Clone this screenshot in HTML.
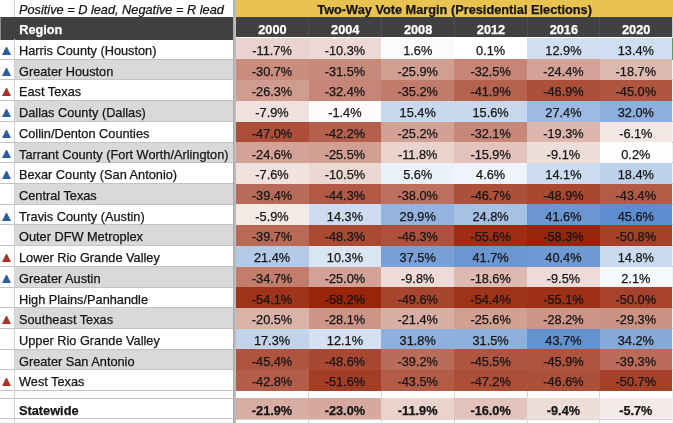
<!DOCTYPE html>
<html><head><meta charset="utf-8"><title>Two-Way Vote Margin</title>
<style>
html,body{margin:0;padding:0;}
body{width:673px;height:423px;overflow:hidden;background:#fff;position:relative;font-family:"Liberation Sans",Arial,sans-serif;font-size:12.75px;color:#151515;}
div{position:absolute;box-sizing:border-box;white-space:nowrap;-webkit-text-stroke:0.25px currentColor;}
.c{text-align:center;}
.b{font-weight:bold;}
.tri{width:0;height:0;border-left:4.6px solid transparent;border-right:4.6px solid transparent;border-bottom:8.5px solid #2d5c9f;}
.tri.r{border-bottom-color:#a5352b;}
.hl{background:#c9c9c9;height:1px;}
</style></head><body>

<div style="left:19.00px;top:0.50px;width:214.00px;height:17.00px;line-height:17px;font-style:italic;">Positive = D lead, Negative = R lead</div>
<div style="left:235.50px;top:0.00px;width:437.50px;height:16.70px;background:#e9c350;"></div>
<div class="c b" style="left:236.60px;top:0.80px;width:436.10px;height:17.00px;line-height:17px;">Two-Way Vote Margin (Presidential Elections)</div>
<div style="left:0.00px;top:17.00px;width:233.00px;height:22.50px;background:#414141;"></div>
<div style="left:0.00px;top:17.00px;width:1.00px;height:22.50px;background:#8c8c8c;"></div>
<div class="b" style="left:19.20px;top:18.80px;width:200.00px;height:21.50px;line-height:21.5px;color:#fff;">Region</div>
<div style="left:235.50px;top:16.70px;width:436.10px;height:20.80px;background:#414141;"></div>
<div class="c b" style="left:235.90px;top:18.80px;width:73.00px;height:20.70px;line-height:21.5px;color:#fff;">2000</div>
<div class="c b" style="left:308.90px;top:18.80px;width:72.80px;height:20.70px;line-height:21.5px;color:#fff;">2004</div>
<div class="c b" style="left:381.70px;top:18.80px;width:72.80px;height:20.70px;line-height:21.5px;color:#fff;">2008</div>
<div class="c b" style="left:454.50px;top:18.80px;width:73.00px;height:20.70px;line-height:21.5px;color:#fff;">2012</div>
<div class="c b" style="left:527.50px;top:18.80px;width:72.70px;height:20.70px;line-height:21.5px;color:#fff;">2016</div>
<div class="c b" style="left:600.20px;top:18.80px;width:72.00px;height:20.70px;line-height:21.5px;color:#fff;">2020</div>
<div style="left:308.00px;top:17.20px;width:1.00px;height:20.30px;background:#4e4e4e;"></div>
<div style="left:380.80px;top:17.20px;width:1.00px;height:20.30px;background:#4e4e4e;"></div>
<div style="left:453.60px;top:17.20px;width:1.00px;height:20.30px;background:#4e4e4e;"></div>
<div style="left:526.60px;top:17.20px;width:1.00px;height:20.30px;background:#4e4e4e;"></div>
<div style="left:599.30px;top:17.20px;width:1.00px;height:20.30px;background:#4e4e4e;"></div>
<div style="left:233.00px;top:0.00px;width:3.00px;height:423.00px;background:linear-gradient(90deg,#a9a9a9,#c4c4c4);"></div>
<div style="left:14.00px;top:0.00px;width:1.00px;height:17.00px;background:#cfcfcf;"></div>
<div style="left:14.00px;top:39.00px;width:1.00px;height:384.00px;background:#cfcfcf;"></div>
<div style="left:0.00px;top:58.70px;width:233.00px;height:1.00px;background:#c4c4c4;"></div>
<div style="left:19.00px;top:41.00px;width:213.00px;height:20.71px;line-height:20.71px;">Harris County (Houston)</div>
<div class="tri" style="left:2.10px;top:46.30px;width:9.20px;height:8.50px;"></div>
<div style="left:235.50px;top:37.50px;width:73.00px;height:21.95px;background:#ead3ce;"></div>
<div class="c" style="left:235.50px;top:41.00px;width:73.00px;height:20.71px;line-height:20.71px;">-11.7%</div>
<div style="left:308.50px;top:37.50px;width:72.80px;height:21.95px;background:#edd8d4;"></div>
<div class="c" style="left:308.50px;top:41.00px;width:72.80px;height:20.71px;line-height:20.71px;">-10.3%</div>
<div style="left:381.30px;top:37.50px;width:72.80px;height:21.95px;background:#f9fbfd;"></div>
<div class="c" style="left:381.30px;top:41.00px;width:72.80px;height:20.71px;line-height:20.71px;">1.6%</div>
<div style="left:454.10px;top:37.50px;width:73.00px;height:21.95px;background:#ffffff;"></div>
<div class="c" style="left:454.10px;top:41.00px;width:73.00px;height:20.71px;line-height:20.71px;">0.1%</div>
<div style="left:527.10px;top:37.50px;width:72.70px;height:21.95px;background:#d1dff1;"></div>
<div class="c" style="left:527.10px;top:41.00px;width:72.70px;height:20.71px;line-height:20.71px;">12.9%</div>
<div style="left:599.80px;top:37.50px;width:72.00px;height:21.95px;background:#cfdef1;"></div>
<div class="c" style="left:599.80px;top:41.00px;width:72.00px;height:20.71px;line-height:20.71px;">13.4%</div>
<div style="left:15.00px;top:59.70px;width:218.00px;height:20.71px;background:#d9d9d9;"></div>
<div style="left:0.00px;top:79.41px;width:233.00px;height:1.00px;background:#c4c4c4;"></div>
<div style="left:19.00px;top:61.71px;width:213.00px;height:20.71px;line-height:20.71px;">Greater Houston</div>
<div class="tri" style="left:2.10px;top:67.01px;width:9.20px;height:8.50px;"></div>
<div style="left:235.50px;top:59.40px;width:73.00px;height:20.76px;background:#c98c7d;"></div>
<div class="c" style="left:235.50px;top:61.71px;width:73.00px;height:20.71px;line-height:20.71px;">-30.7%</div>
<div style="left:308.50px;top:59.40px;width:72.80px;height:20.76px;background:#c7897a;"></div>
<div class="c" style="left:308.50px;top:61.71px;width:72.80px;height:20.71px;line-height:20.71px;">-31.5%</div>
<div style="left:381.30px;top:59.40px;width:72.80px;height:20.76px;background:#d19e92;"></div>
<div class="c" style="left:381.30px;top:61.71px;width:72.80px;height:20.71px;line-height:20.71px;">-25.9%</div>
<div style="left:454.10px;top:59.40px;width:73.00px;height:20.76px;background:#c68576;"></div>
<div class="c" style="left:454.10px;top:61.71px;width:73.00px;height:20.71px;line-height:20.71px;">-32.5%</div>
<div style="left:527.10px;top:59.40px;width:72.70px;height:20.76px;background:#d4a398;"></div>
<div class="c" style="left:527.10px;top:61.71px;width:72.70px;height:20.71px;line-height:20.71px;">-24.4%</div>
<div style="left:599.80px;top:59.40px;width:72.00px;height:20.76px;background:#deb9b0;"></div>
<div class="c" style="left:599.80px;top:61.71px;width:72.00px;height:20.71px;line-height:20.71px;">-18.7%</div>
<div style="left:0.00px;top:100.12px;width:233.00px;height:1.00px;background:#c4c4c4;"></div>
<div style="left:19.00px;top:82.42px;width:213.00px;height:20.71px;line-height:20.71px;">East Texas</div>
<div class="tri r" style="left:2.10px;top:87.72px;width:9.20px;height:8.50px;"></div>
<div style="left:235.50px;top:80.11px;width:73.00px;height:20.76px;background:#d19c90;"></div>
<div class="c" style="left:235.50px;top:82.42px;width:73.00px;height:20.71px;line-height:20.71px;">-26.3%</div>
<div style="left:308.50px;top:80.11px;width:72.80px;height:20.76px;background:#c68576;"></div>
<div class="c" style="left:308.50px;top:82.42px;width:72.80px;height:20.71px;line-height:20.71px;">-32.4%</div>
<div style="left:381.30px;top:80.11px;width:72.80px;height:20.76px;background:#c17b6a;"></div>
<div class="c" style="left:381.30px;top:82.42px;width:72.80px;height:20.71px;line-height:20.71px;">-35.2%</div>
<div style="left:454.10px;top:80.11px;width:73.00px;height:20.76px;background:#b5624e;"></div>
<div class="c" style="left:454.10px;top:82.42px;width:73.00px;height:20.71px;line-height:20.71px;">-41.9%</div>
<div style="left:527.10px;top:80.11px;width:72.70px;height:20.76px;background:#ac4f39;"></div>
<div class="c" style="left:527.10px;top:82.42px;width:72.70px;height:20.71px;line-height:20.71px;">-46.9%</div>
<div style="left:599.80px;top:80.11px;width:72.00px;height:20.76px;background:#af5641;"></div>
<div class="c" style="left:599.80px;top:82.42px;width:72.00px;height:20.71px;line-height:20.71px;">-45.0%</div>
<div style="left:15.00px;top:101.12px;width:218.00px;height:20.71px;background:#d9d9d9;"></div>
<div style="left:0.00px;top:120.84px;width:233.00px;height:1.00px;background:#c4c4c4;"></div>
<div style="left:19.00px;top:103.14px;width:213.00px;height:20.71px;line-height:20.71px;">Dallas County (Dallas)</div>
<div class="tri" style="left:2.10px;top:108.44px;width:9.20px;height:8.50px;"></div>
<div style="left:235.50px;top:100.82px;width:73.00px;height:20.76px;background:#f1e1de;"></div>
<div class="c" style="left:235.50px;top:103.14px;width:73.00px;height:20.71px;line-height:20.71px;">-7.9%</div>
<div style="left:308.50px;top:100.82px;width:72.80px;height:20.76px;background:#fdfaf9;"></div>
<div class="c" style="left:308.50px;top:103.14px;width:72.80px;height:20.71px;line-height:20.71px;">-1.4%</div>
<div style="left:381.30px;top:100.82px;width:72.80px;height:20.76px;background:#c8d8ee;"></div>
<div class="c" style="left:381.30px;top:103.14px;width:72.80px;height:20.71px;line-height:20.71px;">15.4%</div>
<div style="left:454.10px;top:100.82px;width:73.00px;height:20.76px;background:#c7d8ee;"></div>
<div class="c" style="left:454.10px;top:103.14px;width:73.00px;height:20.71px;line-height:20.71px;">15.6%</div>
<div style="left:527.10px;top:100.82px;width:72.70px;height:20.76px;background:#9dbae2;"></div>
<div class="c" style="left:527.10px;top:103.14px;width:72.70px;height:20.71px;line-height:20.71px;">27.4%</div>
<div style="left:599.80px;top:100.82px;width:72.00px;height:20.76px;background:#8dafdd;"></div>
<div class="c" style="left:599.80px;top:103.14px;width:72.00px;height:20.71px;line-height:20.71px;">32.0%</div>
<div style="left:0.00px;top:141.55px;width:233.00px;height:1.00px;background:#c4c4c4;"></div>
<div style="left:19.00px;top:123.85px;width:213.00px;height:20.71px;line-height:20.71px;">Collin/Denton Counties</div>
<div class="tri" style="left:2.10px;top:129.15px;width:9.20px;height:8.50px;"></div>
<div style="left:235.50px;top:121.54px;width:73.00px;height:20.76px;background:#ac4e39;"></div>
<div class="c" style="left:235.50px;top:123.85px;width:73.00px;height:20.71px;line-height:20.71px;">-47.0%</div>
<div style="left:308.50px;top:121.54px;width:72.80px;height:20.76px;background:#b4604d;"></div>
<div class="c" style="left:308.50px;top:123.85px;width:72.80px;height:20.71px;line-height:20.71px;">-42.2%</div>
<div style="left:381.30px;top:121.54px;width:72.80px;height:20.76px;background:#d2a095;"></div>
<div class="c" style="left:381.30px;top:123.85px;width:72.80px;height:20.71px;line-height:20.71px;">-25.2%</div>
<div style="left:454.10px;top:121.54px;width:73.00px;height:20.76px;background:#c68678;"></div>
<div class="c" style="left:454.10px;top:123.85px;width:73.00px;height:20.71px;line-height:20.71px;">-32.1%</div>
<div style="left:527.10px;top:121.54px;width:72.70px;height:20.76px;background:#ddb7ae;"></div>
<div class="c" style="left:527.10px;top:123.85px;width:72.70px;height:20.71px;line-height:20.71px;">-19.3%</div>
<div style="left:599.80px;top:121.54px;width:72.00px;height:20.76px;background:#f4e8e5;"></div>
<div class="c" style="left:599.80px;top:123.85px;width:72.00px;height:20.71px;line-height:20.71px;">-6.1%</div>
<div style="left:15.00px;top:142.55px;width:218.00px;height:20.71px;background:#d9d9d9;"></div>
<div style="left:0.00px;top:162.26px;width:233.00px;height:1.00px;background:#c4c4c4;"></div>
<div style="left:19.00px;top:144.56px;width:213.00px;height:20.71px;line-height:20.71px;">Tarrant County (Fort Worth/Arlington)</div>
<div class="tri" style="left:2.10px;top:149.86px;width:9.20px;height:8.50px;"></div>
<div style="left:235.50px;top:142.25px;width:73.00px;height:20.76px;background:#d4a397;"></div>
<div class="c" style="left:235.50px;top:144.56px;width:73.00px;height:20.71px;line-height:20.71px;">-24.6%</div>
<div style="left:308.50px;top:142.25px;width:72.80px;height:20.76px;background:#d29f93;"></div>
<div class="c" style="left:308.50px;top:144.56px;width:72.80px;height:20.71px;line-height:20.71px;">-25.5%</div>
<div style="left:381.30px;top:142.25px;width:72.80px;height:20.76px;background:#ead3cd;"></div>
<div class="c" style="left:381.30px;top:144.56px;width:72.80px;height:20.71px;line-height:20.71px;">-11.8%</div>
<div style="left:454.10px;top:142.25px;width:73.00px;height:20.76px;background:#e3c3bc;"></div>
<div class="c" style="left:454.10px;top:144.56px;width:73.00px;height:20.71px;line-height:20.71px;">-15.9%</div>
<div style="left:527.10px;top:142.25px;width:72.70px;height:20.76px;background:#efddd9;"></div>
<div class="c" style="left:527.10px;top:144.56px;width:72.70px;height:20.71px;line-height:20.71px;">-9.1%</div>
<div style="left:599.80px;top:142.25px;width:72.00px;height:20.76px;background:#fefeff;"></div>
<div class="c" style="left:599.80px;top:144.56px;width:72.00px;height:20.71px;line-height:20.71px;">0.2%</div>
<div style="left:0.00px;top:182.97px;width:233.00px;height:1.00px;background:#c4c4c4;"></div>
<div style="left:19.00px;top:165.27px;width:213.00px;height:20.71px;line-height:20.71px;">Bexar County (San Antonio)</div>
<div class="tri" style="left:2.10px;top:170.57px;width:9.20px;height:8.50px;"></div>
<div style="left:235.50px;top:162.96px;width:73.00px;height:20.76px;background:#f2e2df;"></div>
<div class="c" style="left:235.50px;top:165.27px;width:73.00px;height:20.71px;line-height:20.71px;">-7.6%</div>
<div style="left:308.50px;top:162.96px;width:72.80px;height:20.76px;background:#ecd8d3;"></div>
<div class="c" style="left:308.50px;top:165.27px;width:72.80px;height:20.71px;line-height:20.71px;">-10.5%</div>
<div style="left:381.30px;top:162.96px;width:72.80px;height:20.76px;background:#ebf1f9;"></div>
<div class="c" style="left:381.30px;top:165.27px;width:72.80px;height:20.71px;line-height:20.71px;">5.6%</div>
<div style="left:454.10px;top:162.96px;width:73.00px;height:20.76px;background:#eff4fa;"></div>
<div class="c" style="left:454.10px;top:165.27px;width:73.00px;height:20.71px;line-height:20.71px;">4.6%</div>
<div style="left:527.10px;top:162.96px;width:72.70px;height:20.76px;background:#cddcf0;"></div>
<div class="c" style="left:527.10px;top:165.27px;width:72.70px;height:20.71px;line-height:20.71px;">14.1%</div>
<div style="left:599.80px;top:162.96px;width:72.00px;height:20.76px;background:#bdd1eb;"></div>
<div class="c" style="left:599.80px;top:165.27px;width:72.00px;height:20.71px;line-height:20.71px;">18.4%</div>
<div style="left:15.00px;top:183.97px;width:218.00px;height:20.71px;background:#d9d9d9;"></div>
<div style="left:0.00px;top:203.68px;width:233.00px;height:1.00px;background:#c4c4c4;"></div>
<div style="left:19.00px;top:185.98px;width:213.00px;height:20.71px;line-height:20.71px;">Central Texas</div>
<div style="left:235.50px;top:183.67px;width:73.00px;height:20.76px;background:#b96b59;"></div>
<div class="c" style="left:235.50px;top:185.98px;width:73.00px;height:20.71px;line-height:20.71px;">-39.4%</div>
<div style="left:308.50px;top:183.67px;width:72.80px;height:20.76px;background:#b15944;"></div>
<div class="c" style="left:308.50px;top:185.98px;width:72.80px;height:20.71px;line-height:20.71px;">-44.3%</div>
<div style="left:381.30px;top:183.67px;width:72.80px;height:20.76px;background:#bc705f;"></div>
<div class="c" style="left:381.30px;top:185.98px;width:72.80px;height:20.71px;line-height:20.71px;">-38.0%</div>
<div style="left:454.10px;top:183.67px;width:73.00px;height:20.76px;background:#ac503a;"></div>
<div class="c" style="left:454.10px;top:185.98px;width:73.00px;height:20.71px;line-height:20.71px;">-46.7%</div>
<div style="left:527.10px;top:183.67px;width:72.70px;height:20.76px;background:#a94731;"></div>
<div class="c" style="left:527.10px;top:185.98px;width:72.70px;height:20.71px;line-height:20.71px;">-48.9%</div>
<div style="left:599.80px;top:183.67px;width:72.00px;height:20.76px;background:#b25c48;"></div>
<div class="c" style="left:599.80px;top:185.98px;width:72.00px;height:20.71px;line-height:20.71px;">-43.4%</div>
<div style="left:0.00px;top:224.40px;width:233.00px;height:1.00px;background:#c4c4c4;"></div>
<div style="left:19.00px;top:206.70px;width:213.00px;height:20.71px;line-height:20.71px;">Travis County (Austin)</div>
<div class="tri" style="left:2.10px;top:212.00px;width:9.20px;height:8.50px;"></div>
<div style="left:235.50px;top:204.38px;width:73.00px;height:20.76px;background:#f5e9e6;"></div>
<div class="c" style="left:235.50px;top:206.70px;width:73.00px;height:20.71px;line-height:20.71px;">-5.9%</div>
<div style="left:308.50px;top:204.38px;width:72.80px;height:20.76px;background:#ccdbf0;"></div>
<div class="c" style="left:308.50px;top:206.70px;width:72.80px;height:20.71px;line-height:20.71px;">14.3%</div>
<div style="left:381.30px;top:204.38px;width:72.80px;height:20.76px;background:#94b4df;"></div>
<div class="c" style="left:381.30px;top:206.70px;width:72.80px;height:20.71px;line-height:20.71px;">29.9%</div>
<div style="left:454.10px;top:204.38px;width:73.00px;height:20.76px;background:#a6c1e4;"></div>
<div class="c" style="left:454.10px;top:206.70px;width:73.00px;height:20.71px;line-height:20.71px;">24.8%</div>
<div style="left:527.10px;top:204.38px;width:72.70px;height:20.76px;background:#6a97d2;"></div>
<div class="c" style="left:527.10px;top:206.70px;width:72.70px;height:20.71px;line-height:20.71px;">41.6%</div>
<div style="left:599.80px;top:204.38px;width:72.00px;height:20.76px;background:#5c8dce;"></div>
<div class="c" style="left:599.80px;top:206.70px;width:72.00px;height:20.71px;line-height:20.71px;">45.6%</div>
<div style="left:15.00px;top:225.40px;width:218.00px;height:20.71px;background:#d9d9d9;"></div>
<div style="left:0.00px;top:245.11px;width:233.00px;height:1.00px;background:#c4c4c4;"></div>
<div style="left:19.00px;top:227.41px;width:213.00px;height:20.71px;line-height:20.71px;">Outer DFW Metroplex</div>
<div style="left:235.50px;top:225.10px;width:73.00px;height:20.76px;background:#b96a57;"></div>
<div class="c" style="left:235.50px;top:227.41px;width:73.00px;height:20.71px;line-height:20.71px;">-39.7%</div>
<div style="left:308.50px;top:225.10px;width:72.80px;height:20.76px;background:#aa4a33;"></div>
<div class="c" style="left:308.50px;top:227.41px;width:72.80px;height:20.71px;line-height:20.71px;">-48.3%</div>
<div style="left:381.30px;top:225.10px;width:72.80px;height:20.76px;background:#ad513c;"></div>
<div class="c" style="left:381.30px;top:227.41px;width:72.80px;height:20.71px;line-height:20.71px;">-46.3%</div>
<div style="left:454.10px;top:225.10px;width:73.00px;height:20.76px;background:#9d2e14;"></div>
<div class="c" style="left:454.10px;top:227.41px;width:73.00px;height:20.71px;line-height:20.71px;">-55.6%</div>
<div style="left:527.10px;top:225.10px;width:72.70px;height:20.76px;background:#982409;"></div>
<div class="c" style="left:527.10px;top:227.41px;width:72.70px;height:20.71px;line-height:20.71px;">-58.3%</div>
<div style="left:599.80px;top:225.10px;width:72.00px;height:20.76px;background:#a54029;"></div>
<div class="c" style="left:599.80px;top:227.41px;width:72.00px;height:20.71px;line-height:20.71px;">-50.8%</div>
<div style="left:0.00px;top:265.82px;width:233.00px;height:1.00px;background:#c4c4c4;"></div>
<div style="left:19.00px;top:248.12px;width:213.00px;height:20.71px;line-height:20.71px;">Lower Rio Grande Valley</div>
<div class="tri r" style="left:2.10px;top:253.42px;width:9.20px;height:8.50px;"></div>
<div style="left:235.50px;top:245.81px;width:73.00px;height:20.76px;background:#b3cae8;"></div>
<div class="c" style="left:235.50px;top:248.12px;width:73.00px;height:20.71px;line-height:20.71px;">21.4%</div>
<div style="left:308.50px;top:245.81px;width:72.80px;height:20.76px;background:#dae5f4;"></div>
<div class="c" style="left:308.50px;top:248.12px;width:72.80px;height:20.71px;line-height:20.71px;">10.3%</div>
<div style="left:381.30px;top:245.81px;width:72.80px;height:20.76px;background:#79a1d7;"></div>
<div class="c" style="left:381.30px;top:248.12px;width:72.80px;height:20.71px;line-height:20.71px;">37.5%</div>
<div style="left:454.10px;top:245.81px;width:73.00px;height:20.76px;background:#6a97d2;"></div>
<div class="c" style="left:454.10px;top:248.12px;width:73.00px;height:20.71px;line-height:20.71px;">41.7%</div>
<div style="left:527.10px;top:245.81px;width:72.70px;height:20.76px;background:#6f9ad4;"></div>
<div class="c" style="left:527.10px;top:248.12px;width:72.70px;height:20.71px;line-height:20.71px;">40.4%</div>
<div style="left:599.80px;top:245.81px;width:72.00px;height:20.76px;background:#cadaef;"></div>
<div class="c" style="left:599.80px;top:248.12px;width:72.00px;height:20.71px;line-height:20.71px;">14.8%</div>
<div style="left:15.00px;top:266.82px;width:218.00px;height:20.71px;background:#d9d9d9;"></div>
<div style="left:0.00px;top:286.53px;width:233.00px;height:1.00px;background:#c4c4c4;"></div>
<div style="left:19.00px;top:268.83px;width:213.00px;height:20.71px;line-height:20.71px;">Greater Austin</div>
<div class="tri" style="left:2.10px;top:274.13px;width:9.20px;height:8.50px;"></div>
<div style="left:235.50px;top:266.52px;width:73.00px;height:20.76px;background:#c27d6d;"></div>
<div class="c" style="left:235.50px;top:268.83px;width:73.00px;height:20.71px;line-height:20.71px;">-34.7%</div>
<div style="left:308.50px;top:266.52px;width:72.80px;height:20.76px;background:#d3a196;"></div>
<div class="c" style="left:308.50px;top:268.83px;width:72.80px;height:20.71px;line-height:20.71px;">-25.0%</div>
<div style="left:381.30px;top:266.52px;width:72.80px;height:20.76px;background:#eedad6;"></div>
<div class="c" style="left:381.30px;top:268.83px;width:72.80px;height:20.71px;line-height:20.71px;">-9.8%</div>
<div style="left:454.10px;top:266.52px;width:73.00px;height:20.76px;background:#deb9b1;"></div>
<div class="c" style="left:454.10px;top:268.83px;width:73.00px;height:20.71px;line-height:20.71px;">-18.6%</div>
<div style="left:527.10px;top:266.52px;width:72.70px;height:20.76px;background:#eedbd7;"></div>
<div class="c" style="left:527.10px;top:268.83px;width:72.70px;height:20.71px;line-height:20.71px;">-9.5%</div>
<div style="left:599.80px;top:266.52px;width:72.00px;height:20.76px;background:#f7fafd;"></div>
<div class="c" style="left:599.80px;top:268.83px;width:72.00px;height:20.71px;line-height:20.71px;">2.1%</div>
<div style="left:0.00px;top:307.24px;width:233.00px;height:1.00px;background:#c4c4c4;"></div>
<div style="left:19.00px;top:289.54px;width:213.00px;height:20.71px;line-height:20.71px;">High Plains/Panhandle</div>
<div style="left:235.50px;top:287.23px;width:73.00px;height:20.76px;background:#9f341b;"></div>
<div class="c" style="left:235.50px;top:289.54px;width:73.00px;height:20.71px;line-height:20.71px;">-54.1%</div>
<div style="left:308.50px;top:287.23px;width:72.80px;height:20.76px;background:#982409;"></div>
<div class="c" style="left:308.50px;top:289.54px;width:72.80px;height:20.71px;line-height:20.71px;">-58.2%</div>
<div style="left:381.30px;top:287.23px;width:72.80px;height:20.76px;background:#a7452e;"></div>
<div class="c" style="left:381.30px;top:289.54px;width:72.80px;height:20.71px;line-height:20.71px;">-49.6%</div>
<div style="left:454.10px;top:287.23px;width:73.00px;height:20.76px;background:#9f3319;"></div>
<div class="c" style="left:454.10px;top:289.54px;width:73.00px;height:20.71px;line-height:20.71px;">-54.4%</div>
<div style="left:527.10px;top:287.23px;width:72.70px;height:20.76px;background:#9e3017;"></div>
<div class="c" style="left:527.10px;top:289.54px;width:72.70px;height:20.71px;line-height:20.71px;">-55.1%</div>
<div style="left:599.80px;top:287.23px;width:72.00px;height:20.76px;background:#a7432c;"></div>
<div class="c" style="left:599.80px;top:289.54px;width:72.00px;height:20.71px;line-height:20.71px;">-50.0%</div>
<div style="left:15.00px;top:308.24px;width:218.00px;height:20.71px;background:#d9d9d9;"></div>
<div style="left:0.00px;top:327.96px;width:233.00px;height:1.00px;background:#c4c4c4;"></div>
<div style="left:19.00px;top:310.26px;width:213.00px;height:20.71px;line-height:20.71px;">Southeast Texas</div>
<div class="tri r" style="left:2.10px;top:315.56px;width:9.20px;height:8.50px;"></div>
<div style="left:235.50px;top:307.94px;width:73.00px;height:20.76px;background:#dbb2a8;"></div>
<div class="c" style="left:235.50px;top:310.26px;width:73.00px;height:20.71px;line-height:20.71px;">-20.5%</div>
<div style="left:308.50px;top:307.94px;width:72.80px;height:20.76px;background:#cd9588;"></div>
<div class="c" style="left:308.50px;top:310.26px;width:72.80px;height:20.71px;line-height:20.71px;">-28.1%</div>
<div style="left:381.30px;top:307.94px;width:72.80px;height:20.76px;background:#d9afa5;"></div>
<div class="c" style="left:381.30px;top:310.26px;width:72.80px;height:20.71px;line-height:20.71px;">-21.4%</div>
<div style="left:454.10px;top:307.94px;width:73.00px;height:20.76px;background:#d29f93;"></div>
<div class="c" style="left:454.10px;top:310.26px;width:73.00px;height:20.71px;line-height:20.71px;">-25.6%</div>
<div style="left:527.10px;top:307.94px;width:72.70px;height:20.76px;background:#cd9588;"></div>
<div class="c" style="left:527.10px;top:310.26px;width:72.70px;height:20.71px;line-height:20.71px;">-28.2%</div>
<div style="left:599.80px;top:307.94px;width:72.00px;height:20.76px;background:#cb9183;"></div>
<div class="c" style="left:599.80px;top:310.26px;width:72.00px;height:20.71px;line-height:20.71px;">-29.3%</div>
<div style="left:0.00px;top:348.67px;width:233.00px;height:1.00px;background:#c4c4c4;"></div>
<div style="left:19.00px;top:330.97px;width:213.00px;height:20.71px;line-height:20.71px;">Upper Rio Grande Valley</div>
<div style="left:235.50px;top:328.66px;width:73.00px;height:20.76px;background:#c1d4ec;"></div>
<div class="c" style="left:235.50px;top:330.97px;width:73.00px;height:20.71px;line-height:20.71px;">17.3%</div>
<div style="left:308.50px;top:328.66px;width:72.80px;height:20.76px;background:#d4e1f2;"></div>
<div class="c" style="left:308.50px;top:330.97px;width:72.80px;height:20.71px;line-height:20.71px;">12.1%</div>
<div style="left:381.30px;top:328.66px;width:72.80px;height:20.76px;background:#8db0dd;"></div>
<div class="c" style="left:381.30px;top:330.97px;width:72.80px;height:20.71px;line-height:20.71px;">31.8%</div>
<div style="left:454.10px;top:328.66px;width:73.00px;height:20.76px;background:#8eb0dd;"></div>
<div class="c" style="left:454.10px;top:330.97px;width:73.00px;height:20.71px;line-height:20.71px;">31.5%</div>
<div style="left:527.10px;top:328.66px;width:72.70px;height:20.76px;background:#6392d0;"></div>
<div class="c" style="left:527.10px;top:330.97px;width:72.70px;height:20.71px;line-height:20.71px;">43.7%</div>
<div style="left:599.80px;top:328.66px;width:72.00px;height:20.76px;background:#85aada;"></div>
<div class="c" style="left:599.80px;top:330.97px;width:72.00px;height:20.71px;line-height:20.71px;">34.2%</div>
<div style="left:15.00px;top:349.67px;width:218.00px;height:20.71px;background:#d9d9d9;"></div>
<div style="left:0.00px;top:369.38px;width:233.00px;height:1.00px;background:#c4c4c4;"></div>
<div style="left:19.00px;top:351.68px;width:213.00px;height:20.71px;line-height:20.71px;">Greater San Antonio</div>
<div style="left:235.50px;top:349.37px;width:73.00px;height:20.76px;background:#af543f;"></div>
<div class="c" style="left:235.50px;top:351.68px;width:73.00px;height:20.71px;line-height:20.71px;">-45.4%</div>
<div style="left:308.50px;top:349.37px;width:72.80px;height:20.76px;background:#a94832;"></div>
<div class="c" style="left:308.50px;top:351.68px;width:72.80px;height:20.71px;line-height:20.71px;">-48.6%</div>
<div style="left:381.30px;top:349.37px;width:72.80px;height:20.76px;background:#ba6c5a;"></div>
<div class="c" style="left:381.30px;top:351.68px;width:72.80px;height:20.71px;line-height:20.71px;">-39.2%</div>
<div style="left:454.10px;top:349.37px;width:73.00px;height:20.76px;background:#af543f;"></div>
<div class="c" style="left:454.10px;top:351.68px;width:73.00px;height:20.71px;line-height:20.71px;">-45.5%</div>
<div style="left:527.10px;top:349.37px;width:72.70px;height:20.76px;background:#ae533d;"></div>
<div class="c" style="left:527.10px;top:351.68px;width:72.70px;height:20.71px;line-height:20.71px;">-45.9%</div>
<div style="left:599.80px;top:349.37px;width:72.00px;height:20.76px;background:#ba6b59;"></div>
<div class="c" style="left:599.80px;top:351.68px;width:72.00px;height:20.71px;line-height:20.71px;">-39.3%</div>
<div style="left:0.00px;top:390.09px;width:233.00px;height:1.00px;background:#c4c4c4;"></div>
<div style="left:19.00px;top:372.39px;width:213.00px;height:20.71px;line-height:20.71px;">West Texas</div>
<div class="tri r" style="left:2.10px;top:377.69px;width:9.20px;height:8.50px;"></div>
<div style="left:235.50px;top:370.08px;width:73.00px;height:20.76px;background:#b35e4a;"></div>
<div class="c" style="left:235.50px;top:372.39px;width:73.00px;height:20.71px;line-height:20.71px;">-42.8%</div>
<div style="left:308.50px;top:370.08px;width:72.80px;height:20.76px;background:#a43d25;"></div>
<div class="c" style="left:308.50px;top:372.39px;width:72.80px;height:20.71px;line-height:20.71px;">-51.6%</div>
<div style="left:381.30px;top:370.08px;width:72.80px;height:20.76px;background:#b25c47;"></div>
<div class="c" style="left:381.30px;top:372.39px;width:72.80px;height:20.71px;line-height:20.71px;">-43.5%</div>
<div style="left:454.10px;top:370.08px;width:73.00px;height:20.76px;background:#ac4e38;"></div>
<div class="c" style="left:454.10px;top:372.39px;width:73.00px;height:20.71px;line-height:20.71px;">-47.2%</div>
<div style="left:527.10px;top:370.08px;width:72.70px;height:20.76px;background:#ad503a;"></div>
<div class="c" style="left:527.10px;top:372.39px;width:72.70px;height:20.71px;line-height:20.71px;">-46.6%</div>
<div style="left:599.80px;top:370.08px;width:72.00px;height:20.76px;background:#a54129;"></div>
<div class="c" style="left:599.80px;top:372.39px;width:72.00px;height:20.71px;line-height:20.71px;">-50.7%</div>
<div style="left:0.00px;top:397.80px;width:233.00px;height:1.00px;background:#c4c4c4;"></div>
<div style="left:308.00px;top:390.79px;width:1.00px;height:8.00px;background:#d5d5d5;"></div>
<div style="left:380.80px;top:390.79px;width:1.00px;height:8.00px;background:#d5d5d5;"></div>
<div style="left:453.60px;top:390.79px;width:1.00px;height:8.00px;background:#d5d5d5;"></div>
<div style="left:526.60px;top:390.79px;width:1.00px;height:8.00px;background:#d5d5d5;"></div>
<div style="left:599.30px;top:390.79px;width:1.00px;height:8.00px;background:#d5d5d5;"></div>
<div style="left:0.00px;top:418.00px;width:233.00px;height:1.00px;background:#c4c4c4;"></div>
<div class="b" style="left:19.00px;top:400.70px;width:200.00px;height:20.71px;line-height:20.71px;">Statewide</div>
<div style="left:235.50px;top:398.40px;width:73.00px;height:20.30px;background:#d8ada3;"></div>
<div class="c b" style="left:235.50px;top:400.70px;width:73.00px;height:20.71px;line-height:20.71px;">-21.9%</div>
<div style="left:308.50px;top:398.40px;width:72.80px;height:20.30px;background:#d6a99e;"></div>
<div class="c b" style="left:308.50px;top:400.70px;width:72.80px;height:20.71px;line-height:20.71px;">-23.0%</div>
<div style="left:381.30px;top:398.40px;width:72.80px;height:20.30px;background:#ead2cd;"></div>
<div class="c b" style="left:381.30px;top:400.70px;width:72.80px;height:20.71px;line-height:20.71px;">-11.9%</div>
<div style="left:454.10px;top:398.40px;width:73.00px;height:20.30px;background:#e3c3bb;"></div>
<div class="c b" style="left:454.10px;top:400.70px;width:73.00px;height:20.71px;line-height:20.71px;">-16.0%</div>
<div style="left:527.10px;top:398.40px;width:72.70px;height:20.30px;background:#eedcd7;"></div>
<div class="c b" style="left:527.10px;top:400.70px;width:72.70px;height:20.71px;line-height:20.71px;">-9.4%</div>
<div style="left:599.80px;top:398.40px;width:72.00px;height:20.30px;background:#f5eae7;"></div>
<div class="c b" style="left:599.80px;top:400.70px;width:72.00px;height:20.71px;line-height:20.71px;">-5.7%</div>
<div style="left:308.00px;top:419.00px;width:1.00px;height:4.00px;background:#d5d5d5;"></div>
<div style="left:380.80px;top:419.00px;width:1.00px;height:4.00px;background:#d5d5d5;"></div>
<div style="left:453.60px;top:419.00px;width:1.00px;height:4.00px;background:#d5d5d5;"></div>
<div style="left:526.60px;top:419.00px;width:1.00px;height:4.00px;background:#d5d5d5;"></div>
<div style="left:599.30px;top:419.00px;width:1.00px;height:4.00px;background:#d5d5d5;"></div>
<div style="left:235.50px;top:418.80px;width:436.10px;height:1.00px;background:#d5d5d5;"></div>
<div style="left:671.80px;top:16.70px;width:1.40px;height:407.00px;background:#f2f2f2;"></div>
<div style="left:671.80px;top:16.70px;width:1.40px;height:20.60px;background:#c8c8c8;"></div>
<div style="left:671.80px;top:37.50px;width:1.40px;height:22.00px;background:#5f9e5a;"></div>
<div style="left:671.80px;top:79.41px;width:1.40px;height:1.00px;background:#cfcfcf;"></div>
<div style="left:671.80px;top:100.12px;width:1.40px;height:1.00px;background:#cfcfcf;"></div>
<div style="left:671.80px;top:120.84px;width:1.40px;height:1.00px;background:#cfcfcf;"></div>
<div style="left:671.80px;top:141.55px;width:1.40px;height:1.00px;background:#cfcfcf;"></div>
<div style="left:671.80px;top:162.26px;width:1.40px;height:1.00px;background:#cfcfcf;"></div>
<div style="left:671.80px;top:182.97px;width:1.40px;height:1.00px;background:#cfcfcf;"></div>
<div style="left:671.80px;top:203.68px;width:1.40px;height:1.00px;background:#cfcfcf;"></div>
<div style="left:671.80px;top:224.40px;width:1.40px;height:1.00px;background:#cfcfcf;"></div>
<div style="left:671.80px;top:245.11px;width:1.40px;height:1.00px;background:#cfcfcf;"></div>
<div style="left:671.80px;top:265.82px;width:1.40px;height:1.00px;background:#cfcfcf;"></div>
<div style="left:671.80px;top:286.53px;width:1.40px;height:1.00px;background:#cfcfcf;"></div>
<div style="left:671.80px;top:307.24px;width:1.40px;height:1.00px;background:#cfcfcf;"></div>
<div style="left:671.80px;top:327.96px;width:1.40px;height:1.00px;background:#cfcfcf;"></div>
<div style="left:671.80px;top:348.67px;width:1.40px;height:1.00px;background:#cfcfcf;"></div>
<div style="left:671.80px;top:369.38px;width:1.40px;height:1.00px;background:#cfcfcf;"></div>
<div style="left:671.80px;top:390.09px;width:1.40px;height:1.00px;background:#cfcfcf;"></div>
</body></html>
